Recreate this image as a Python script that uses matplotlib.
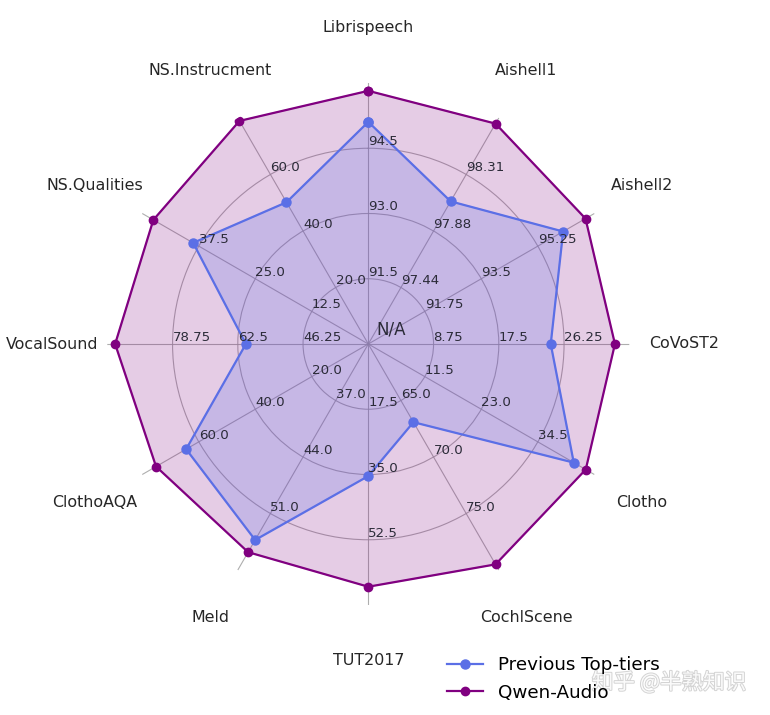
import numpy as np
import matplotlib.pyplot as plt
import matplotlib.patheffects as pe

# axes, clockwise from the top
categories = ["Librispeech", "Aishell1", "Aishell2", "CoVoST2", "Clotho", "CochlScene",
              "TUT2017", "Meld", "ClothoAQA", "VocalSound", "NS.Qualities", "NS.Instrucment"]

# normalised scores (outer edge of the chart = 1.0)
previous = [0.851, 0.631, 0.862, 0.699, 0.909, 0.346, 0.506, 0.867, 0.806, 0.469, 0.775, 0.627]
qwen = [0.970, 0.975, 0.961, 0.945, 0.962, 0.975, 0.930, 0.921, 0.939, 0.970, 0.951, 0.987]

# per-axis labels of the three inner rings
ring_labels = [
    ["91.5", "93.0", "94.5"],
    ["97.44", "97.88", "98.31"],
    ["91.75", "93.5", "95.25"],
    ["8.75", "17.5", "26.25"],
    ["11.5", "23.0", "34.5"],
    ["65.0", "70.0", "75.0"],
    ["17.5", "35.0", "52.5"],
    ["37.0", "44.0", "51.0"],
    ["20.0", "40.0", "60.0"],
    ["46.25", "62.5", "78.75"],
    ["12.5", "25.0", "37.5"],
    ["20.0", "40.0", "60.0"],
]
rings = [0.25, 0.5, 0.75]

blue = "#5b6fe6"
purple = "#800080"

angles = np.linspace(0, 2 * np.pi, len(categories), endpoint=False)
closed = np.concatenate([angles, angles[:1]])

fig = plt.figure(figsize=(7.7, 7.15), dpi=100)
R = 261
cx, cy = 368.3, 344
ax = fig.add_axes([(cx - R) / 770, (715 - cy - R) / 715, 2 * R / 770, 2 * R / 715], polar=True)
ax.set_theta_offset(np.pi / 2)
ax.set_theta_direction(-1)
ax.set_ylim(0, 1.0)
ax.set_rgrids(rings, labels=[])
ax.set_thetagrids(np.degrees(angles), labels=[])
ax.grid(color="#a0a0a0", linewidth=0.8, alpha=0.85)
ax.spines["polar"].set_visible(False)
ax.set_facecolor("none")

q = qwen + qwen[:1]
p = previous + previous[:1]
ax.fill(closed, q, color=purple, alpha=0.2, zorder=2)
ax.fill(closed, p, color=blue, alpha=0.22, zorder=3)
ax.plot(closed, p, color=blue, linewidth=1.6, marker="o", markersize=6.5, label="Previous Top-tiers", zorder=4)
ax.plot(closed, q, color=purple, linewidth=1.6, marker="o", markersize=6, label="Qwen-Audio", zorder=4)

for a, labs in zip(angles, ring_labels):
    for r, s in zip(rings, labs):
        ax.text(a, r, s, ha="left", va="bottom", fontsize=9.6, color="#2b2b38", zorder=5)

ax.annotate("N/A", xy=(0, 0), xytext=(5.5, 4), textcoords="offset points",
            ha="left", va="bottom", fontsize=12, color="#2b2b38", zorder=5)

for a, name in zip(angles, categories):
    ax.text(a, 1.211, name, ha="center", va="center", fontsize=11.4, color="#262626")

fig.legend(loc="center left", bbox_to_anchor=(430 / 770, 1 - 679 / 715), frameon=False,
           fontsize=13.2, handlelength=2.0, labelspacing=0.5)

fig.text(669 / 770, 1 - 683 / 715, "知乎 @半熟知识", ha="center", va="center", fontsize=15.5,
         family=["Noto Sans CJK SC", "DejaVu Sans"], color="white", alpha=0.9,
         path_effects=[pe.withStroke(linewidth=1.4, foreground="#cfcfcf")])

fig.savefig("out.png", dpi=100)
